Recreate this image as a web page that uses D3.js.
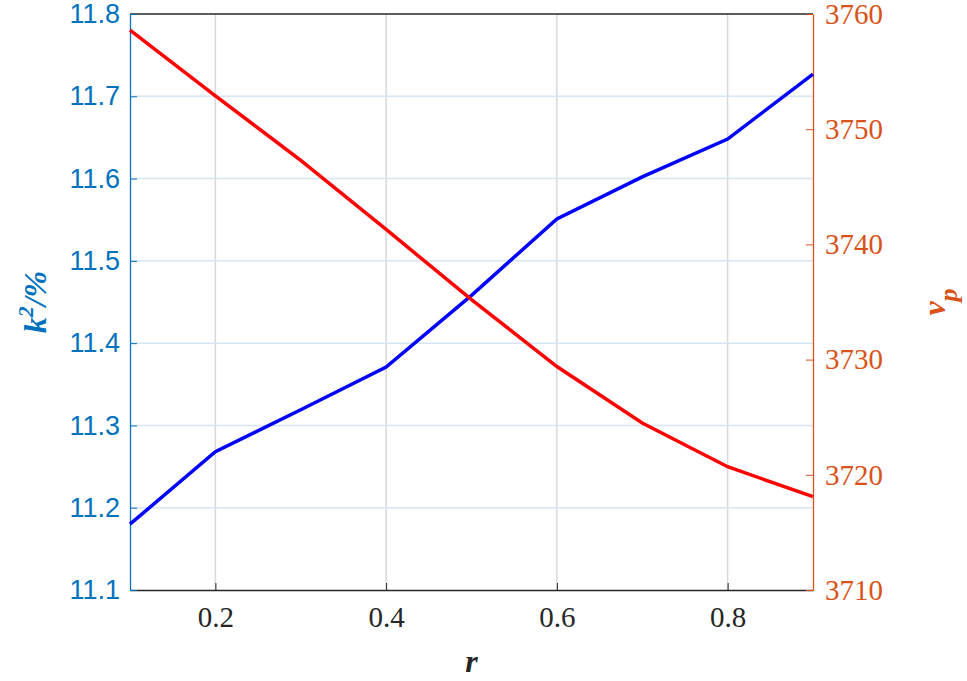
<!DOCTYPE html>
<html><head><meta charset="utf-8">
<script src="https://cdn.jsdelivr.net/npm/d3@7"></script>
<style>body{margin:0;background:#fff}</style></head>
<body><svg id="c" width="967" height="681"></svg>
<script>
const rValues = [0.1,0.2,0.3,0.4,0.5,0.6,0.7,0.8,0.9];
const k2Values = [11.18,11.268,11.319,11.371,11.458,11.551,11.602,11.648,11.727];
const vpValues = [3758.6,3752.9,3747.3,3741.3,3735.2,3729.4,3724.5,3720.7,3718.1];
const xTicks = [0.2,0.4,0.6,0.8];
const leftTicks = [11.1,11.2,11.3,11.4,11.5,11.6,11.7,11.8];
const rightTicks = [3710,3720,3730,3740,3750,3760];

const svg = d3.select("#c");
const L=130,R=813,T=14,B=590;
const x = d3.scaleLinear().domain([0.1,0.9]).range([L,R]);
const yL = d3.scaleLinear().domain([11.1,11.8]).range([B,T]);
const yR = d3.scaleLinear().domain([3710,3760]).range([B,T]);
const blueAx="#0072BD", orangeAx="#D95319";
const font="Liberation Serif, Times New Roman, serif";

svg.append("g").selectAll("line").data(xTicks).join("line")
 .attr("x1",d=>x(d)).attr("x2",d=>x(d)).attr("y1",T).attr("y2",B)
 .attr("stroke","#d5d8de").attr("stroke-width",1.5);
svg.append("g").selectAll("line").data(leftTicks.slice(1,-1)).join("line")
 .attr("y1",d=>yL(d)).attr("y2",d=>yL(d)).attr("x1",L).attr("x2",R)
 .attr("stroke","#d6e6f3").attr("stroke-width",1.5);

const ax = (g,axis,color,fam,size)=>{g.call(axis);g.select(".domain").attr("stroke",color).attr("stroke-width",1.3);
 g.selectAll(".tick line").attr("stroke",color);
 g.selectAll("text").attr("fill",color).attr("font-family",fam).attr("font-size",size);};
ax(svg.append("g").attr("transform",`translate(0,${B})`),
 d3.axisBottom(x).tickValues(xTicks).tickSize(-7).tickPadding(16).tickSizeOuter(0).tickFormat(d3.format(".1f")),"#262626",font,29);
svg.append("line").attr("x1",L).attr("x2",R).attr("y1",T).attr("y2",T).attr("stroke","#262626").attr("stroke-width",1.3);
ax(svg.append("g").attr("transform",`translate(${L},0)`),
 d3.axisLeft(yL).tickValues(leftTicks).tickSize(-7).tickPadding(10).tickSizeOuter(0).tickFormat(d3.format(".1f")),blueAx,"Liberation Sans, Arial, sans-serif",27);
ax(svg.append("g").attr("transform",`translate(${R},0)`),
 d3.axisRight(yR).tickValues(rightTicks).tickSize(-7).tickPadding(12).tickSizeOuter(0).tickFormat(d3.format("d")),orangeAx,font,29);

const line=(ys,vals)=>d3.line().x((d,i)=>x(rValues[i])).y(d=>ys(d))(vals);
svg.append("path").attr("d",line(yL,k2Values)).attr("fill","none").attr("stroke","#0000ff").attr("stroke-width",3.5);
svg.append("path").attr("d",line(yR,vpValues)).attr("fill","none").attr("stroke","#ff0000").attr("stroke-width",3.5);

svg.append("text").attr("x",(L+R)/2).attr("y",672).attr("text-anchor","middle")
 .attr("font-family",font).attr("font-size",32).attr("font-style","italic").attr("font-weight","bold").attr("fill","#262626").text("r");
const yl=svg.append("text").attr("transform",`translate(46,${(T+B)/2}) rotate(-90)`).attr("text-anchor","middle")
 .attr("font-family",font).attr("font-size",32).attr("font-style","italic").attr("font-weight","bold").attr("fill",blueAx);
yl.append("tspan").text("k");yl.append("tspan").attr("dy",-13).attr("font-size",22).text("2");yl.append("tspan").attr("dy",13).text("/%");
const yr=svg.append("text").attr("transform",`translate(945,${(T+B)/2}) rotate(-90)`).attr("text-anchor","middle")
 .attr("font-family",font).attr("font-size",32).attr("font-style","italic").attr("font-weight","bold").attr("fill",orangeAx);
yr.append("tspan").text("v");yr.append("tspan").attr("dy",12).attr("font-size",26).text("p");
</script></body></html>
